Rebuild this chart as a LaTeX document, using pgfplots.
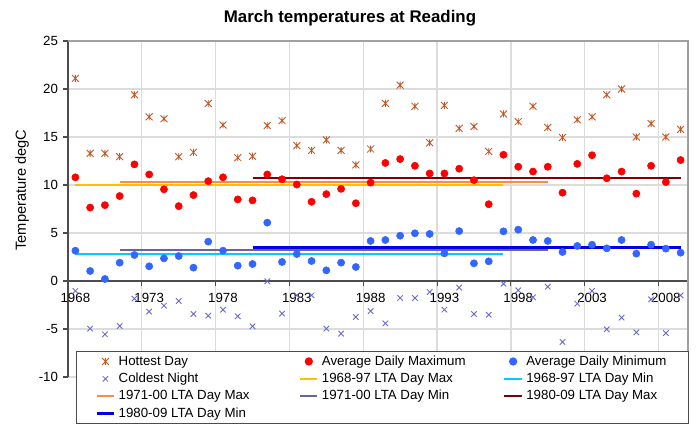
\documentclass[border=0pt]{standalone}
\usepackage{fontspec}
\setmainfont{Liberation Sans}
\usepackage{pgfplots}
\usepackage{pgfplotstable}
\pgfplotsset{compat=1.18}

\definecolor{hotcol}{RGB}{192,88,36}
\definecolor{maxcol}{RGB}{255,0,0}
\definecolor{mincol}{RGB}{51,102,255}
\definecolor{coldcol}{RGB}{102,102,204}
\definecolor{ltamaxA}{RGB}{255,192,0}
\definecolor{ltamaxB}{RGB}{255,140,60}
\definecolor{ltamaxC}{RGB}{128,0,0}
\definecolor{ltaminA}{RGB}{0,204,255}
\definecolor{ltaminB}{RGB}{102,102,153}
\definecolor{ltaminC}{RGB}{0,0,230}
\definecolor{gridcol}{RGB}{220,220,220}
\definecolor{framecol}{RGB}{160,160,160}

% star marker: a cross with a vertical stroke
\pgfdeclareplotmark{xstar}{%
  \pgfpathmoveto{\pgfqpoint{-\pgfplotmarksize}{-\pgfplotmarksize}}%
  \pgfpathlineto{\pgfqpoint{\pgfplotmarksize}{\pgfplotmarksize}}%
  \pgfpathmoveto{\pgfqpoint{-\pgfplotmarksize}{\pgfplotmarksize}}%
  \pgfpathlineto{\pgfqpoint{\pgfplotmarksize}{-\pgfplotmarksize}}%
  \pgfpathmoveto{\pgfqpoint{0pt}{-\pgfplotmarksize}}%
  \pgfpathlineto{\pgfqpoint{0pt}{\pgfplotmarksize}}%
  \pgfusepathqstroke}

% March values at Reading, 1968-2009 (idx 0 = 1968)
\pgfplotstableread{
idx year hot avgmax avgmin cold
0 1968 21.1 10.8 3.16 -1.04
1 1969 13.3 7.65 1.04 -4.96
2 1970 13.3 7.9 0.21 -5.55
3 1971 12.95 8.85 1.91 -4.69
4 1972 19.4 12.15 2.71 -1.84
5 1973 17.1 11.1 1.53 -3.19
6 1974 16.9 9.55 2.36 -2.57
7 1975 12.95 7.8 2.6 -2.08
8 1976 13.4 8.95 1.39 -3.44
9 1977 18.5 10.4 4.1 -3.61
10 1978 16.25 10.8 3.16 -2.99
11 1979 12.85 8.5 1.6 -3.68
12 1980 13.0 8.4 1.77 -4.72
13 1981 16.2 11.1 6.08 -0.03
14 1982 16.7 10.6 1.98 -3.4
15 1983 14.1 10.05 2.81 -1.49
16 1984 13.6 8.25 2.08 -1.49
17 1985 14.7 9.05 1.11 -4.96
18 1986 13.6 9.6 1.91 -5.49
19 1987 12.1 8.1 1.46 -3.75
20 1988 13.75 10.25 4.17 -3.13
21 1989 18.5 12.3 4.27 -4.41
22 1990 20.4 12.7 4.72 -1.77
23 1991 18.2 12.0 4.97 -1.77
24 1992 14.4 11.2 4.9 -1.15
25 1993 18.3 11.2 2.88 -2.99
26 1994 15.9 11.7 5.2 -0.69
27 1995 16.1 10.5 1.84 -3.44
28 1996 13.5 8.0 2.05 -3.51
29 1997 17.4 13.15 5.17 -0.28
30 1998 16.6 11.9 5.35 -0.97
31 1999 18.2 11.4 4.27 -1.7
32 2000 16.0 11.9 4.17 -0.59
33 2001 14.95 9.2 3.02 -6.35
34 2002 16.8 12.2 3.65 -2.36
35 2003 17.1 13.1 3.78 -1.04
36 2004 19.4 10.7 3.4 -5.03
37 2005 20.0 11.4 4.27 -3.82
38 2006 15.0 9.1 2.85 -5.35
39 2007 16.4 12.0 3.78 -1.91
40 2008 15.0 10.3 3.37 -5.42
41 2009 15.8 12.6 2.95 -1.49
}\marchdata

\newcommand{\colA}[1]{\makebox[132.75bp][l]{#1}}
\newcommand{\colB}[1]{\makebox[133.5bp][l]{#1}}

\begin{document}
\begin{tikzpicture}
\useasboundingbox (0,0) rectangle (525bp,322.5bp);
\begin{axis}[
  at={(51bp,39.75bp)}, anchor=south west,
  scale only axis, width=465bp, height=252bp,
  xmin=-0.5, xmax=41.5, ymin=-10, ymax=25,
  axis x line=middle, axis y line=left,
  axis line style={-, draw=black!70, line width=0.8bp},
  hide obscured x ticks=false, hide obscured y ticks=false,
  xtick={-0.5,4.5,...,39.5},
  xticklabels={1968,1973,1978,1983,1988,1993,1998,2003,2008},
  xticklabel style={xshift=5.536bp, yshift=-2bp},
  ytick={-10,-5,...,25},
  tick align=outside, major tick length=4bp,
  tick style={draw=black!70, line width=0.8bp},
  grid=major,
  major grid style={draw=gridcol, line width=1bp},
  /pgf/number format/assume math mode=true,
  tick label style={font=\fontsize{10}{12}\selectfont},
  legend columns=3,
  legend cell align=left,
  legend image code/.code={\draw[mark repeat=2,mark phase=2,#1] plot coordinates {(0bp,0bp) (6.5bp,0bp) (13bp,0bp)};},
  legend style={at={(axis description cs:0.0129,0.0783)}, anchor=north west,
    draw=black!70, line width=0.75bp, fill=white,
    column sep=0bp, inner xsep=14.25bp, inner ysep=1.2bp,
    font=\fontsize{10}{12}\selectfont,
    nodes={inner xsep=2.5bp, inner ysep=0bp, minimum height=13bp}},
  after end axis/.code={
    \draw[framecol, line width=0.8bp] (rel axis cs:0,1) -- (rel axis cs:1,1) -- (rel axis cs:1,0);
  },
]
\addplot[only marks, mark=xstar, mark size=2.6bp, mark options={draw=hotcol, line width=0.65bp}]
  table[x=idx, y=hot] {\marchdata};
\addlegendentry{\colA{Hottest Day}}
\addplot[only marks, mark=*, mark size=2.7bp, color=maxcol]
  table[x=idx, y=avgmax] {\marchdata};
\addlegendentry{\colB{Average Daily Maximum}}
\addplot[only marks, mark=*, mark size=2.7bp, color=mincol]
  table[x=idx, y=avgmin] {\marchdata};
\addlegendentry{Average Daily Minimum}
\addplot[only marks, mark=x, mark size=2.9bp, mark options={draw=coldcol, line width=0.65bp}]
  table[x=idx, y=cold] {\marchdata};
\addlegendentry{\colA{Coldest Night}}
\addplot[no marks, draw=ltamaxA, line width=1.7bp] coordinates {(0,10.0) (29,10.0)};
\addlegendentry{\colB{1968-97 LTA Day Max}}
\addplot[no marks, draw=ltaminA, line width=1.7bp] coordinates {(0,2.85) (29,2.85)};
\addlegendentry{1968-97 LTA Day Min}
\addplot[no marks, draw=ltamaxB, line width=1.6bp] coordinates {(3,10.3) (32,10.3)};
\addlegendentry{\colA{1971-00 LTA Day Max}}
\addplot[no marks, draw=ltaminB, line width=1.3bp] coordinates {(3,3.25) (32,3.25)};
\addlegendentry{\colB{1971-00 LTA Day Min}}
\addplot[no marks, draw=ltamaxC, line width=1.8bp] coordinates {(12,10.76) (41,10.76)};
\addlegendentry{1980-09 LTA Day Max}
\addplot[no marks, draw=ltaminC, line width=1.9bp] coordinates {(12,3.5) (41,3.5)};
\addlegendentry{\colA{1980-09 LTA Day Min}}
\end{axis}
\node[font=\fontsize{12.7}{15}\selectfont\bfseries] at (262.5bp,309bp) {March temperatures at Reading};
\node[rotate=90, font=\fontsize{11}{13}\selectfont] at (16.5bp,180bp) {Temperature degC};
\end{tikzpicture}
\end{document}
